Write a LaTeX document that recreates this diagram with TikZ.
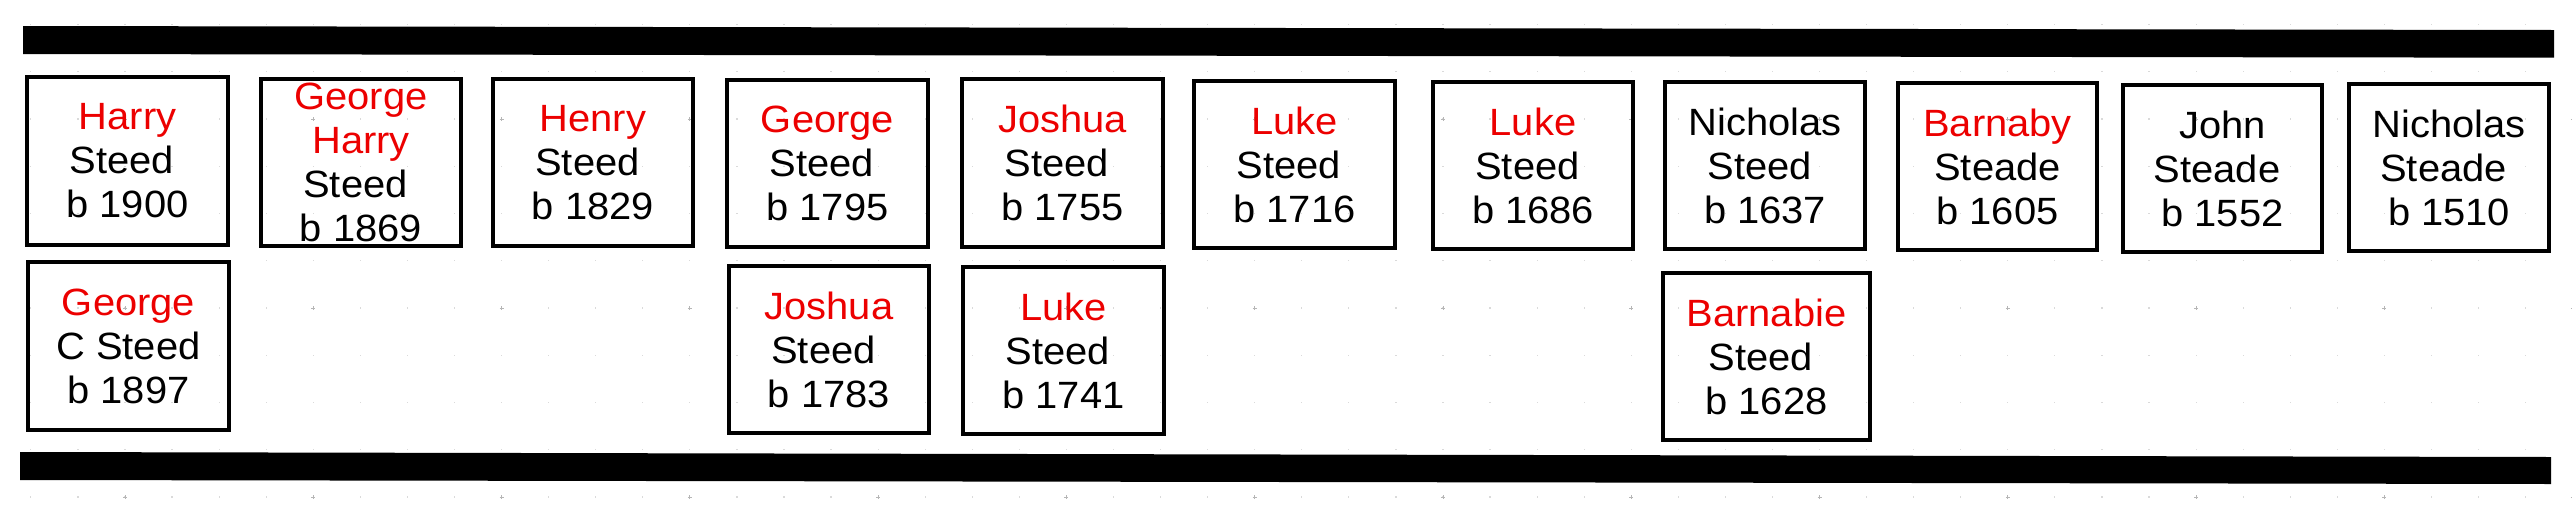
\documentclass[tikz,border=0pt]{standalone}
\usepackage{fontspec}
\setmainfont{Liberation Sans}[FakeStretch=1.05]
\definecolor{namered}{RGB}{236,0,0}
\definecolor{griddot}{RGB}{150,150,150}
\newcommand\steedbox[6]{%
  \pgfmathsetmacro\sbw{#4-#2-4.2}%
  \pgfmathsetmacro\sbh{#5-#3-4.2}%
  \node[pbox, minimum width=\sbw pt, minimum height=\sbh pt] (#1) at ({(#2+#4)/2},{(#3+#5)/2}) {};
  \node[ptext] (#1t) at (#1.center) {#6};}
\newcommand\rn[1]{\textcolor{namered}{#1}}
\newcommand\tsp{\kern11pt}
\begin{document}
\begin{tikzpicture}[x=1pt,y=-1pt,
  pbox/.style={draw=black, line width=4.2pt, rectangle, inner sep=0pt, fill=none},
  ptext/.style={align=center, inner sep=0pt, font=\fontsize{38}{44}\selectfont, text=black},
  bar/.style={fill=black, draw=none}]
\useasboundingbox (0,0) rectangle (2572,515);
% faint drawing grid
\foreach \i in {0,...,53}{
  \foreach \j in {0,...,10}{
    \fill[griddot!35] ({30.86+47.07*\i-0.6},{24.5+47.25*\j-0.6}) rectangle ++(1.2,1.2);
  }
}
\foreach \i in {2,6,...,54}{
  \foreach \j in {2,6,10}{
    \draw[griddot!70, line width=0.8pt] ({30.86+47.07*\i-2},{24.5+47.25*\j}) -- ++(4,0)
      ({30.86+47.07*\i},{24.5+47.25*\j-2}) -- ++(0,4);
  }
}
% bars
\coordinate (tbl) at (23,26);
\coordinate (tbr) at (2554,30);
\coordinate (bbl) at (20,452);
\coordinate (bbr) at (2551,457);
\fill[bar] (tbl) -- (tbr) -- ++(0,27.7) -- (23,54) -- cycle;
\fill[bar] (bbl) -- (bbr) -- ++(0,27) -- (20,480) -- cycle;
% boxes
\steedbox{harry}{25}{75}{230}{247}{\rn{Harry}\\Steed\tsp\\b 1900}
\steedbox{georgec}{26}{260}{231}{432}{\rn{George}\\C Steed\\b 1897}
\steedbox{georgeh}{259}{77}{463}{248}{\rn{George}\\\rn{Harry}\\Steed\tsp\\b 1869}
\steedbox{henry}{491}{77}{695}{248}{\rn{Henry}\\Steed\tsp\\b 1829}
\steedbox{george}{725}{78}{930}{249}{\rn{George}\\Steed\tsp\\b 1795}
\steedbox{joshuaa}{960}{77}{1165}{249}{\rn{Joshua}\\Steed\tsp\\b 1755}
\steedbox{lukea}{1192}{79}{1397}{250}{\rn{Luke}\\Steed\tsp\\b 1716}
\steedbox{joshuab}{727}{264}{931}{435}{\rn{Joshua}\\Steed\tsp\\b 1783}
\steedbox{lukeb}{961}{265}{1166}{436}{\rn{Luke}\\Steed\tsp\\b 1741}
\steedbox{lukec}{1431}{80}{1635}{251}{\rn{Luke}\\Steed\tsp\\b 1686}
\steedbox{nicholasa}{1663}{80}{1867}{251}{Nicholas\\Steed\tsp\\b 1637}
\steedbox{barnabie}{1661}{271}{1872}{442}{\rn{Barnabie}\\Steed\tsp\\b 1628}
\steedbox{barnaby}{1896}{81}{2099}{252}{\rn{Barnaby}\\Steade\\b 1605}
\steedbox{john}{2121}{83}{2324}{254}{John\\Steade\tsp\\b 1552}
\steedbox{nicholasb}{2347}{82}{2551}{253}{Nicholas\\Steade\tsp\\b 1510}
\end{tikzpicture}
\end{document}
